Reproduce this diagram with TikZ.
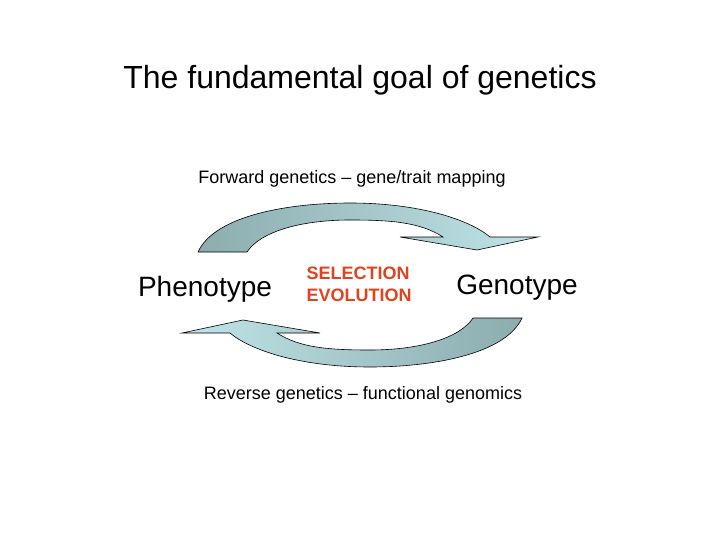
\documentclass[tikz,border=0pt]{standalone}
\usepackage{fontspec}
\setmainfont{Liberation Sans}
\begin{document}
\begin{tikzpicture}[x=1pt,y=-1pt,
  lbl/.style={inner sep=0pt,anchor=center},
  arr/.style={draw=black,line width=0.6pt}]
\definecolor{dk}{RGB}{140,172,174}
\definecolor{lt}{RGB}{192,228,232}
\definecolor{sel}{RGB}{226,66,30}
\useasboundingbox (0,0) rectangle (720,540);
\node[lbl,font=\fontsize{32}{36}\selectfont] (title) at (360,80) {The fundamental goal of genetics};
\node[lbl,font=\fontsize{18}{20}\selectfont] (fwd) at (352,179) {Forward genetics -- gene/trait mapping};
\node[lbl,font=\fontsize{18}{20}\selectfont] (rev) at (363,395) {Reverse genetics -- functional genomics};
\node[lbl,font=\fontsize{28}{30}\selectfont] (phen) at (205,289) {Phenotype};
\node[lbl,font=\fontsize{28}{30}\selectfont] (gen) at (517,288) {Genotype};
\node[lbl,text=sel,align=left,font=\fontsize{18}{22}\selectfont\bfseries] (sel) at (359,284) {SELECTION\\EVOLUTION};
\path[arr,left color=dk,right color=lt]
  (198,252) .. controls (215,215) and (290,203) .. (350,203)
  .. controls (420,203) and (470,220) .. (490,237)
  -- (538,237) -- (477,250) -- (400,237) -- (443,237)
  .. controls (420,222) and (390,220) .. (350,220)
  .. controls (300,220) and (260,232) .. (247,252) -- cycle;
\path[arr,left color=lt,right color=dk]
  (522,318) .. controls (505,355) and (430,367) .. (370,367)
  .. controls (300,367) and (250,350) .. (230,333)
  -- (182,333) -- (243,320) -- (320,333) -- (277,333)
  .. controls (300,348) and (330,350) .. (370,350)
  .. controls (420,350) and (460,338) .. (473,318) -- cycle;
\end{tikzpicture}
\end{document}
